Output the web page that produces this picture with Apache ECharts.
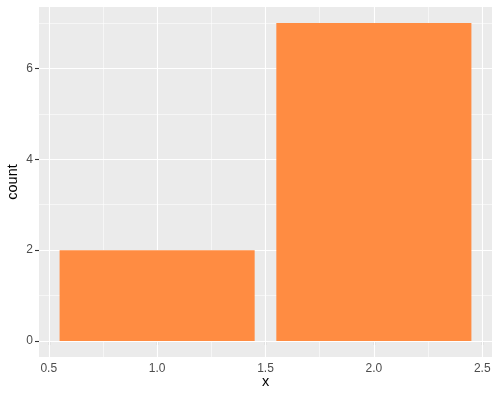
<!DOCTYPE html>
<html>
<head>
<meta charset="utf-8">
<script src="https://cdn.jsdelivr.net/npm/echarts@6/dist/echarts.min.js"></script>
<style>html,body{margin:0;padding:0;background:#fff}#c{width:500px;height:402px}</style>
</head>
<body>
<div id="c"></div>
<script>
var xCenters = [1, 2];
var counts = [2, 7];
var barWidth = 0.9;
var xTicks = [0.5, 1.0, 1.5, 2.0, 2.5];
var xTickLabels = ['0.5', '1.0', '1.5', '2.0', '2.5'];
var xMinor = [0.75, 1.25, 1.75, 2.25];
var yTicks = [0, 2, 4, 6];
var yMinor = [1, 3, 5, 7];
var xRange = [0.455, 2.545];
var yRange = [-0.35, 7.35];

var chart = echarts.init(document.getElementById('c'), null, {renderer: 'canvas'});

function gridLines(vals, dim, width) {
  return vals.map(function (v) {
    var o = {}; o[dim] = v;
    o.lineStyle = {color: '#ffffff', width: width, type: 'solid'};
    return o;
  });
}

var barData = xCenters.map(function (c, i) { return [c - barWidth / 2, c + barWidth / 2, counts[i]]; });

var font = 'Liberation Sans, Arial, sans-serif';
var option = {
  animation: false,
  backgroundColor: '#ffffff',
  grid: {left: 39, right: 8, top: 7, bottom: 45, containLabel: false, outerBoundsMode: 'none',
    show: true, backgroundColor: '#EBEBEB', borderWidth: 0},
  xAxis: {
    type: 'value', min: xRange[0], max: xRange[1],
    name: 'x', nameLocation: 'middle', nameGap: 17, nameMoveOverlap: false,
    nameTextStyle: {color: '#000000', fontSize: 14.5, fontFamily: font},
    axisLine: {show: false},
    axisTick: {show: true, length: 4, lineStyle: {color: '#333333', width: 1.1}, customValues: xTicks},
    axisLabel: {color: '#4D4D4D', fontSize: 12, fontFamily: font, margin: 6,
      customValues: xTicks, formatter: function (v) { var i = xTicks.indexOf(v); return i >= 0 ? xTickLabels[i] : ''; }},
    splitLine: {show: false}
  },
  yAxis: {
    type: 'value', min: yRange[0], max: yRange[1],
    name: 'count', nameLocation: 'middle', nameGap: 19, nameRotate: 90, nameMoveOverlap: false,
    nameTextStyle: {color: '#000000', fontSize: 14.5, fontFamily: font},
    axisLine: {show: false},
    axisTick: {show: true, length: 4, lineStyle: {color: '#333333', width: 1.1}, customValues: yTicks},
    axisLabel: {color: '#4D4D4D', fontSize: 12, fontFamily: font, margin: 6,
      customValues: yTicks, formatter: function (v) { return String(v); }},
    splitLine: {show: false}
  },
  series: [
    {
      type: 'line', data: [], silent: true,
      markLine: {
        silent: true, symbol: ['none', 'none'], animation: false,
        label: {show: false},
        data: gridLines(xMinor, 'xAxis', 0.55).concat(gridLines(yMinor, 'yAxis', 0.55))
          .concat(gridLines(xTicks, 'xAxis', 1.1)).concat(gridLines(yTicks, 'yAxis', 1.1))
      }
    },
    {
      type: 'custom',
      data: barData,
      renderItem: function (params, api) {
        var p0 = api.coord([api.value(0), api.value(2)]);
        var p1 = api.coord([api.value(1), 0]);
        return {
          type: 'rect',
          shape: {x: p0[0], y: p0[1], width: p1[0] - p0[0], height: p1[1] - p0[1]},
          style: {fill: '#FF8C42'}
        };
      },
      z: 5
    }
  ]
};
chart.setOption(option);
</script>
</body>
</html>
